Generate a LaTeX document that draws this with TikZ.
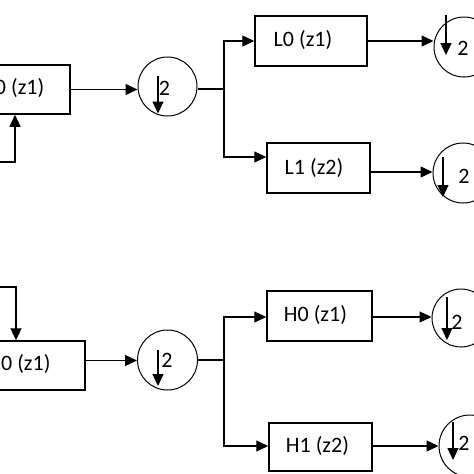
\documentclass[tikz,border=0pt]{standalone}
\usepackage{fontspec}
\setmainfont{Carlito}
\usetikzlibrary{arrows.meta}
\begin{document}
\begin{tikzpicture}[x=1pt,y=-1pt,
  box/.style={draw,line width=1.5pt,rectangle,inner sep=0pt},
  ring/.style={draw,circle,line width=1pt,inner sep=0pt},
  conn/.style={line width=1.3pt},
  arr/.style={conn,-{Triangle[length=12pt,width=11pt]}},
  dn/.style={line width=1.2pt,-{Triangle[length=12pt,width=11pt]}},
  lbl/.style={font=\fontsize{22}{26}\selectfont,inner sep=0pt}]
\useasboundingbox (0,0) rectangle (474,474);
\clip (0,0) rectangle (474,474);

% ---- top half ----
\node[box,minimum width=110pt,minimum height=49pt] (A) at (15,89.5) {};
\node[lbl] (tA) at (15,88) {L0 (z1)};
\coordinate (fa) at (-5,162);
\draw[arr] (fa) -| (A.south);

\node[ring,minimum size=59pt] (C1) at (167.5,86.5) {};
\draw[dn] ([shift={(-9.5,-11)}]C1.center) -- ++(0,38);
\node[lbl] (n1) at ([shift={(-3,1.5)}]C1.center) {2};
\draw[arr] (A.east) -- (A.east -| C1.west);

\coordinate (j1) at (224,89);
\node[box,minimum width=112pt,minimum height=50pt] (L0) at (311,41) {};
\node[lbl] (tL0) at (303,40) {L0 (z1)};
\node[box,minimum width=103pt,minimum height=50pt] (L1) at (318.5,168) {};
\node[lbl] (tL1) at (314,168) {L1 (z2)};
\draw[conn] (C1.east |- j1) -- (j1);
\draw[arr] (j1) |- (L0.west);
\draw[arr] (j1) |- ([yshift=11pt]L1.west);

\node[ring,minimum size=60pt] (CL0) at (464,47) {};
\draw[dn] ([shift={(-18,-32)}]CL0.center) -- ++(0,40);
\node[lbl] (n2) at ([shift={(-1,1)}]CL0.center) {2};
\draw[arr] (L0.east) -- (L0.east -| CL0.west);

\node[ring,minimum size=60pt] (CL1) at (463,173) {};
\draw[dn] ([shift={(-20,-16)}]CL1.center) -- ++(0,40);
\node[lbl] (n3) at ([shift={(1,3)}]CL1.center) {2};
\draw[arr] ([yshift=-4pt]L1.east) -- ([yshift=-4pt]L1.east -| CL1.west);

% ---- bottom half ----
\node[box,minimum width=132pt,minimum height=49pt] (B) at (19,365.5) {};
\node[lbl] (tB) at (19,364) {H0 (z1)};
\coordinate (fb) at (-5,287);
\draw[arr] (fb) -| ([xshift=-3pt]B.north);

\node[ring,minimum size=60pt] (C2) at (167.5,360) {};
\draw[dn] ([shift={(-9.5,-10)}]C2.center) -- ++(0,36);
\node[lbl] (n4) at ([shift={(-0.5,0)}]C2.center) {2};
\draw[arr] ([yshift=5pt]B.east) -- ([yshift=5pt]B.east -| C2.west);

\coordinate (j2) at (224,360);
\node[box,minimum width=105pt,minimum height=50pt] (H0) at (319.5,316) {};
\node[lbl] (tH0) at (315.5,315) {H0 (z1)};
\node[box,minimum width=103pt,minimum height=48pt] (H1) at (320.5,447) {};
\node[lbl] (tH1) at (317.5,446) {H1 (z2)};
\draw[conn] (C2.east) -- (j2);
\draw[arr] (j2) |- ([yshift=-1pt]H0.west);
\draw[arr] (j2) |- ([yshift=1pt]H1.west);

\node[ring,minimum size=58pt] (CH0) at (461,318) {};
\draw[dn] ([shift={(-14,-21)}]CH0.center) -- ++(0,43);
\node[lbl] (n5) at ([shift={(-4,4)}]CH0.center) {2};
\draw[arr] ([yshift=-1pt]H0.east) -- ([yshift=-1pt]H0.east -| CH0.west);

\node[ring,minimum size=62pt] (CH1) at (470,446) {};
\draw[dn] ([shift={(-17,-24)}]CH1.center) -- ++(0,38);
\node[lbl] (n6) at ([shift={(-6,-3)}]CH1.center) {2};
\draw[arr] ([yshift=1pt]H1.east) -- ([yshift=1pt]H1.east -| CH1.west);
\end{tikzpicture}
\end{document}
